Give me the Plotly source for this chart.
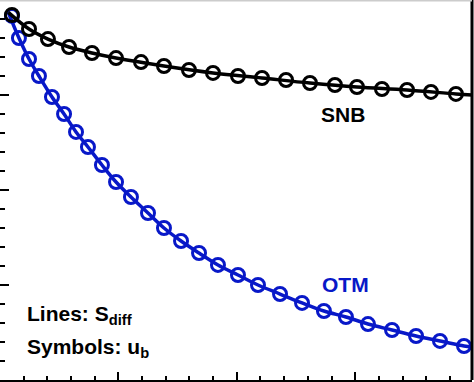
import plotly.graph_objects as go

# ---- data ----
# SNB: symbols (u_b) and line (S_diff)
snb_sym_x = [0.101, 0.245, 0.405, 0.583, 0.777, 0.980, 1.191, 1.385, 1.596, 1.799,
             2.010, 2.213, 2.416, 2.618, 2.829, 3.015, 3.226, 3.438, 3.640, 3.851]
snb_sym_y = [3.842, 3.695, 3.589, 3.505, 3.442, 3.389, 3.347, 3.305, 3.263, 3.232,
             3.200, 3.179, 3.158, 3.126, 3.105, 3.084, 3.063, 3.053, 3.032, 3.011]
snb_line_x = [0.07, 0.245, 0.405, 0.583, 0.777, 0.980, 1.385, 1.799, 2.213, 2.618,
              3.015, 3.438, 3.851, 3.986]
snb_line_y = [3.87, 3.695, 3.589, 3.505, 3.442, 3.389, 3.305, 3.232, 3.179, 3.126,
              3.084, 3.053, 3.011, 3.000]

# OTM: symbols (u_b) and line (S_diff)
otm_sym_x = [0.101, 0.160, 0.245, 0.329, 0.439, 0.541, 0.642, 0.743, 0.861, 0.980,
             1.106, 1.250, 1.385, 1.529, 1.681, 1.841, 2.010, 2.179, 2.365, 2.551,
             2.736, 2.922, 3.108, 3.311, 3.514, 3.716, 3.919]
otm_sym_y = [3.832, 3.600, 3.379, 3.200, 2.979, 2.800, 2.611, 2.453, 2.263, 2.084,
             1.926, 1.758, 1.600, 1.463, 1.337, 1.211, 1.105, 1.000, 0.905, 0.811,
             0.726, 0.663, 0.589, 0.526, 0.463, 0.411, 0.358]
otm_line_x = [0.07, 0.160, 0.245, 0.329, 0.439, 0.541, 0.642, 0.743, 0.861, 0.980,
              1.106, 1.250, 1.385, 1.529, 1.681, 1.841, 2.010, 2.179, 2.365, 2.551,
              2.736, 2.922, 3.108, 3.311, 3.514, 3.716, 3.919, 3.986]
otm_line_y = [3.87, 3.600, 3.379, 3.200, 2.979, 2.800, 2.611, 2.453, 2.263, 2.084,
              1.926, 1.758, 1.600, 1.463, 1.337, 1.211, 1.105, 1.000, 0.905, 0.811,
              0.726, 0.663, 0.589, 0.526, 0.463, 0.411, 0.358, 0.345]

BLUE = "#0818c8"
BLACK = "#000000"
FONT = "Liberation Sans"

fig = go.Figure()

# OTM first (drawn under SNB)
fig.add_trace(go.Scatter(x=otm_line_x, y=otm_line_y, mode="lines",
                         line=dict(color=BLUE, width=3.5, shape="spline"),
                         showlegend=False, hoverinfo="skip"))
fig.add_trace(go.Scatter(x=otm_sym_x, y=otm_sym_y, mode="markers",
                         marker=dict(symbol="circle-open", size=13, color=BLUE,
                                     line=dict(color=BLUE, width=3)),
                         showlegend=False))
fig.add_trace(go.Scatter(x=snb_line_x, y=snb_line_y, mode="lines",
                         line=dict(color=BLACK, width=3.5, shape="spline"),
                         showlegend=False, hoverinfo="skip"))
fig.add_trace(go.Scatter(x=snb_sym_x, y=snb_sym_y, mode="markers",
                         marker=dict(symbol="circle-open", size=13, color=BLACK,
                                     line=dict(color=BLACK, width=3)),
                         showlegend=False))

annotations = [
    dict(x=2.897, y=2.79, text="<b>SNB</b>", font=dict(family=FONT, size=21, color=BLACK)),
    dict(x=2.922, y=1.01, text="<b>OTM</b>", font=dict(family=FONT, size=21, color=BLUE)),
]
for a in annotations:
    a.update(xref="x", yref="y", showarrow=False, xanchor="center", yanchor="middle")

annotations.append(dict(x=0.215, y=0.68, xref="x", yref="y", showarrow=False,
                        xanchor="left", yanchor="middle",
                        text="<b>Lines: S<sub>diff</sub></b>",
                        font=dict(family=FONT, size=21, color=BLACK)))
annotations.append(dict(x=0.215, y=0.34, xref="x", yref="y", showarrow=False,
                        xanchor="left", yanchor="middle",
                        text="<b>Symbols: u<sub>b</sub></b>",
                        font=dict(family=FONT, size=21, color=BLACK)))

fig.update_layout(
    width=474, height=382,
    margin=dict(l=0, r=2, t=0, b=2),
    paper_bgcolor="white", plot_bgcolor="white",
    annotations=annotations,
    xaxis=dict(range=[0, 3.9865], showgrid=False, zeroline=False,
               showticklabels=False, ticks="inside", ticklen=8, tickwidth=2,
               tickcolor=BLACK, dtick=1, tick0=0,
               minor=dict(ticks="inside", ticklen=4, tickwidth=1.5, dtick=0.2,
                          tickcolor=BLACK, showgrid=False),
               showline=True, linecolor=BLACK, linewidth=3),
    yaxis=dict(range=[0, 4], showgrid=False, zeroline=False,
               showticklabels=False, ticks="inside", ticklen=9, tickwidth=2,
               tickcolor=BLACK, dtick=1, tick0=0,
               minor=dict(ticks="inside", ticklen=5, tickwidth=1.5, dtick=0.2,
                          tickcolor=BLACK, showgrid=False),
               showline=False),
    shapes=[
        dict(type="line", xref="paper", yref="paper", x0=1, x1=1, y0=0, y1=1,
             line=dict(color=BLACK, width=3)),
        dict(type="line", xref="paper", yref="paper", x0=0, x1=1, y0=1, y1=1,
             line=dict(color="#cccccc", width=3)),
    ],
)

fig.write_html("out.html")
